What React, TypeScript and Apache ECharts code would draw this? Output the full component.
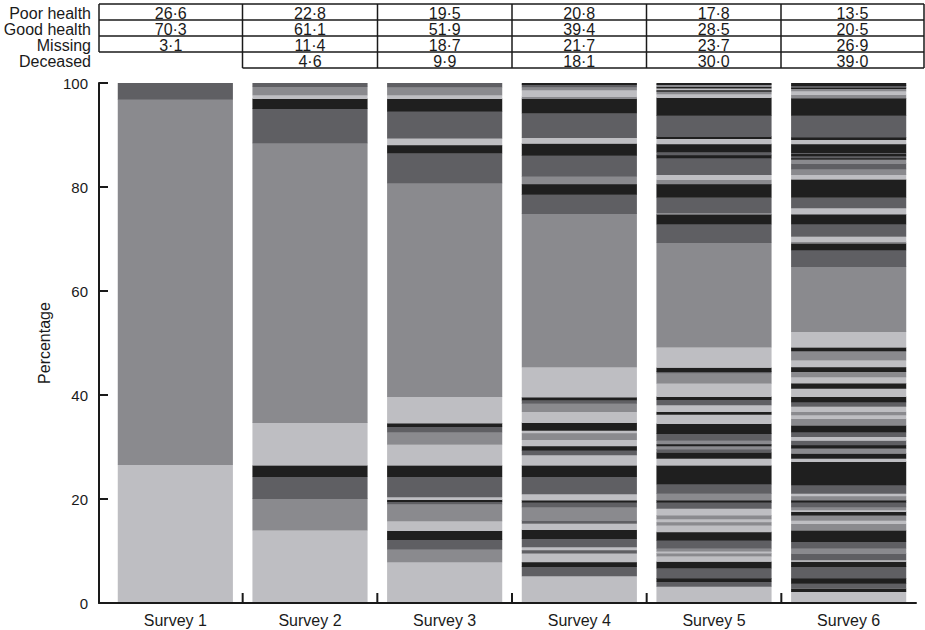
import React, { useEffect, useRef } from "react";
import * as echarts from "echarts";

const surveys = ["Survey 1", "Survey 2", "Survey 3", "Survey 4", "Survey 5", "Survey 6"];
const rowLabels = ["Poor health", "Good health", "Missing", "Deceased"];
const poorHealth = ["26·6", "22·8", "19·5", "20·8", "17·8", "13·5"];
const goodHealth = ["70·3", "61·1", "51·9", "39·4", "28·5", "20·5"];
const missingPct = ["3·1", "11·4", "18·7", "21·7", "23·7", "26·9"];
const deceasedPct = ["", "4·6", "9·9", "18·1", "30·0", "39·0"];

// state codes: P poor health, G good health, M missing, D deceased
// each stripe: [state, upper cumulative percentage], listed from the bottom
const survey1Stripes: [string, number][] = [["P", 26.6], ["G", 96.9], ["M", 100]];
const survey2Stripes: [string, number][] = [
  ["P", 14.0], ["G", 20.1], ["M", 24.3], ["D", 26.5], ["P", 34.7], ["G", 88.5], ["M", 95.1], ["D", 97.0],
  ["P", 97.7], ["G", 99.3], ["M", 100],
];
const survey3Stripes: [string, number][] = [
  ["P", 7.9], ["G", 10.3], ["M", 12.2], ["D", 13.9], ["P", 15.8], ["G", 19.0], ["M", 19.5], ["D", 19.9],
  ["P", 20.4], ["M", 24.3], ["D", 26.5], ["P", 30.5], ["G", 32.9], ["M", 33.9], ["D", 34.6], ["P", 39.7],
  ["G", 80.8], ["M", 86.5], ["D", 88.1], ["P", 89.4], ["M", 94.6], ["D", 97.0], ["P", 97.7], ["G", 99.2],
  ["M", 100],
];
const survey4Stripes: [string, number][] = [
  ["P", 5.2], ["M", 7.0], ["D", 7.9], ["P", 9.6], ["M", 10.2], ["P", 10.8], ["M", 12.4], ["D", 14.1],
  ["P", 15.3], ["M", 15.9], ["G", 18.5], ["M", 19.4], ["D", 19.8], ["P", 21.0], ["M", 24.3], ["D", 26.5],
  ["P", 28.5], ["M", 29.4], ["D", 30.2], ["P", 31.4], ["G", 32.7], ["P", 33.2], ["D", 34.7], ["P", 36.8],
  ["G", 38.4], ["M", 39.0], ["D", 39.6], ["P", 45.4], ["G", 74.9], ["M", 78.6], ["D", 80.6], ["G", 82.1],
  ["M", 86.1], ["D", 88.4], ["P", 89.5], ["M", 94.2], ["D", 97.0], ["G", 97.4], ["P", 98.7], ["G", 99.2],
  ["M", 99.7], ["D", 100],
];
const survey5Stripes: [string, number][] = [
  ["P", 3.2], ["M", 4.1], ["D", 4.8], ["M", 6.7], ["D", 8.0], ["P", 9.0], ["G", 9.6], ["P", 10.0],
  ["G", 10.5], ["M", 12.1], ["D", 13.7], ["P", 15.0], ["G", 15.6], ["P", 16.2], ["G", 16.9], ["P", 18.2],
  ["M", 19.4], ["D", 19.8], ["G", 21.1], ["M", 22.9], ["D", 26.5], ["P", 27.8], ["D", 29.0], ["M", 29.6],
  ["G", 30.2], ["D", 30.6], ["G", 31.3], ["M", 32.6], ["D", 34.5], ["P", 36.3], ["D", 36.8], ["P", 38.1],
  ["M", 39.1], ["D", 39.7], ["P", 42.3], ["G", 44.2], ["M", 44.5], ["D", 45.3], ["P", 49.2], ["G", 69.3],
  ["M", 72.9], ["D", 74.8], ["P", 75.0], ["M", 78.0], ["D", 80.6], ["G", 81.4], ["P", 82.4], ["M", 85.6],
  ["D", 86.2], ["M", 86.7], ["D", 88.3], ["P", 89.3], ["D", 89.7], ["M", 93.8], ["D", 97.2], ["P", 97.9],
  ["G", 98.4], ["D", 98.7], ["P", 99.0], ["D", 99.3], ["G", 99.7], ["D", 100],
];
const survey6Stripes: [string, number][] = [
  ["P", 2.2], ["D", 2.8], ["M", 3.8], ["D", 4.8], ["M", 7.0], ["D", 8.0], ["P", 8.3], ["M", 9.5],
  ["G", 10.5], ["M", 11.8], ["D", 14.0], ["G", 15.3], ["P", 15.9], ["G", 16.9], ["D", 17.6], ["P", 17.9],
  ["G", 18.5], ["M", 19.4], ["D", 19.8], ["G", 20.6], ["P", 21.1], ["M", 22.7], ["D", 27.2], ["P", 27.8],
  ["D", 28.8], ["G", 29.8], ["D", 30.4], ["M", 31.3], ["P", 32.0], ["M", 32.9], ["D", 34.2], ["G", 35.5],
  ["P", 36.2], ["G", 36.8], ["P", 37.8], ["M", 38.7], ["D", 39.7], ["P", 41.3], ["D", 42.3], ["P", 43.5],
  ["G", 44.5], ["D", 45.4], ["P", 46.7], ["G", 48.5], ["D", 49.2], ["P", 52.2], ["G", 64.7], ["M", 67.9],
  ["D", 69.2], ["G", 69.5], ["P", 70.5], ["M", 72.9], ["D", 74.8], ["P", 76.0], ["M", 78.0], ["D", 81.5],
  ["P", 82.4], ["G", 83.5], ["M", 84.5], ["G", 85.3], ["D", 85.6], ["M", 86.0], ["D", 86.4], ["M", 86.6],
  ["D", 88.3], ["P", 89.1], ["D", 89.6], ["M", 93.8], ["D", 97.1], ["G", 97.8], ["P", 98.5], ["G", 98.9],
  ["D", 99.2], ["M", 99.5], ["D", 100],
];

const allStripes = [survey1Stripes, survey2Stripes, survey3Stripes, survey4Stripes, survey5Stripes, survey6Stripes];
const stateCodes = ["P", "G", "M", "D"];
const stateColors = ["#bebec2", "#8a8a8e", "#5f5f63", "#1f1f1f"];

const FONT = "'Liberation Sans', Arial, Helvetica, sans-serif";
const INK = "#1a1a1a";

export default function App() {
  const ref = useRef<HTMLDivElement>(null);

  useEffect(() => {
    if (!ref.current) return;
    const chart = echarts.init(ref.current, undefined, { renderer: "svg" });

    const stripeData: number[][] = [];
    allStripes.forEach((list, s) => {
      let prev = 0;
      list.forEach(([st, up]) => {
        stripeData.push([s, prev, up, stateCodes.indexOf(st)]);
        prev = up;
      });
    });
    const boundaryData = surveys.slice(0, -1).map((_, i) => [i, 0]);

    // table layout
    const tTop = 4;
    const rowH = 16;
    const colEdges = [99, 242.5, 377.5, 512, 646.5, 781, 924];
    const rows = [poorHealth, goodHealth, missingPct, deceasedPct];
    const graphics: any[] = [];
    const ls = { stroke: INK, lineWidth: 1.5 };
    // horizontal lines
    for (let r = 0; r <= 3; r++) {
      graphics.push({ type: "line", shape: { x1: colEdges[0], y1: tTop + r * rowH, x2: colEdges[6], y2: tTop + r * rowH }, style: ls });
    }
    graphics.push({ type: "line", shape: { x1: colEdges[1], y1: tTop + 4 * rowH, x2: colEdges[6], y2: tTop + 4 * rowH }, style: ls });
    // vertical lines
    graphics.push({ type: "line", shape: { x1: colEdges[0], y1: tTop, x2: colEdges[0], y2: tTop + 3 * rowH }, style: ls });
    for (let c = 1; c <= 6; c++) {
      graphics.push({ type: "line", shape: { x1: colEdges[c], y1: tTop, x2: colEdges[c], y2: tTop + 4 * rowH }, style: ls });
    }
    rowLabels.forEach((lab, r) => {
      graphics.push({
        type: "text", x: 91, y: tTop + r * rowH + rowH / 2 + 1,
        style: { text: lab, fontSize: 16, fontFamily: FONT, fill: INK, align: "right", verticalAlign: "middle" },
      });
      rows[r].forEach((v, c) => {
        if (!v) return;
        graphics.push({
          type: "text", x: (colEdges[c] + colEdges[c + 1]) / 2, y: tTop + r * rowH + rowH / 2 + 1,
          style: { text: v, fontSize: 16, fontFamily: FONT, fill: INK, align: "center", verticalAlign: "middle" },
        });
      });
    });

    chart.setOption({
      animation: false,
      backgroundColor: "#ffffff",
      textStyle: { fontFamily: FONT },
      grid: [
        { left: 108, top: 83, width: 808, height: 520 },
        { left: 99, top: 83, width: 817, height: 520 },
      ],
      xAxis: [
        {
          type: "category", gridIndex: 0, data: surveys, boundaryGap: true,
          axisLine: { show: false }, axisTick: { show: false },
          axisLabel: { fontSize: 16, color: INK, margin: 9, fontFamily: FONT },
        },
        {
          type: "value", gridIndex: 1, min: 0, max: 1, z: 5,
          axisLine: { show: true, lineStyle: { color: INK, width: 2 } },
          axisTick: { show: false }, axisLabel: { show: false }, splitLine: { show: false },
        },
      ],
      yAxis: [
        { type: "value", gridIndex: 0, min: 0, max: 100, show: false, splitLine: { show: false } },
        {
          type: "value", gridIndex: 1, min: 0, max: 100, interval: 20, z: 5,
          name: "Percentage", nameLocation: "middle", nameGap: 44, nameRotate: 90,
          nameTextStyle: { fontSize: 16, color: INK, fontFamily: FONT },
          axisLine: { show: true, lineStyle: { color: INK, width: 2 } },
          axisTick: { show: true, inside: true, length: 9, lineStyle: { color: INK, width: 2 } },
          axisLabel: { fontSize: 15, color: INK, margin: 11, fontFamily: FONT },
          splitLine: { show: false },
        },
      ],
      graphic: graphics,
      series: [
        {
          type: "custom", xAxisIndex: 0, yAxisIndex: 0, z: 1,
          encode: { x: 0, y: [1, 2] },
          data: stripeData,
          renderItem: (params: any, api: any) => {
            const s = api.value(0);
            const lo = api.value(1);
            const hi = api.value(2);
            const st = api.value(3);
            const b = api.coord([s, lo]);
            const t = api.coord([s, hi]);
            const w = api.size([1, 0])[0] * 0.855;
            return {
              type: "rect",
              shape: { x: b[0] - w / 2, y: t[1], width: w, height: b[1] - t[1] + 0.4 },
              style: { fill: stateColors[st] },
            };
          },
        },
        {
          type: "custom", xAxisIndex: 0, yAxisIndex: 0, z: 6,
          encode: { x: 0, y: 1 },
          data: boundaryData,
          renderItem: (params: any, api: any) => {
            const p = api.coord([api.value(0), 0]);
            const x = p[0] + api.size([1, 0])[0] / 2;
            return {
              type: "line",
              shape: { x1: x, y1: p[1], x2: x, y2: p[1] - 10 },
              style: { stroke: INK, lineWidth: 2 },
            };
          },
        },
      ],
    });

    return () => chart.dispose();
  }, []);

  return (
    <div
      ref={ref}
      style={{ position: "fixed", left: 0, top: 0, width: 925, height: 630, background: "#fff" }}
    />
  );
}
